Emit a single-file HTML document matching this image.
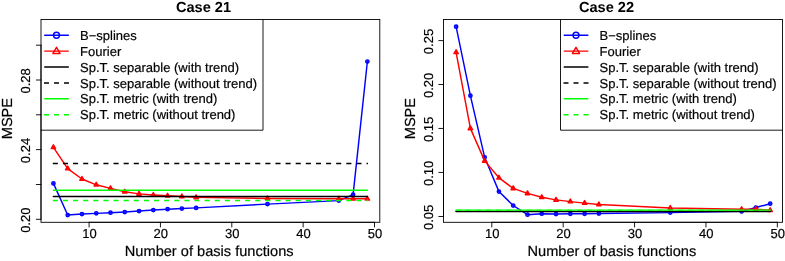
<!DOCTYPE html>
<html lang="en">
<head>
<meta charset="utf-8">
<title>MSPE vs number of basis functions</title>
<style>
html,body{margin:0;padding:0;background:#fff;}
body{width:785px;height:261px;overflow:hidden;}
svg{display:block;text-rendering:geometricPrecision;stroke:none;font-family:"Liberation Sans",sans-serif;fill:#000;}
.ln{fill:none;stroke-width:1.45;stroke-linecap:round;stroke-linejoin:round;}
.ll{fill:none;stroke-width:1.45;stroke-linecap:round;stroke-linejoin:round;}
.b{stroke:#0000ff;}
.r{stroke:#ff0000;}
.k{stroke:#000;}
.g{stroke:#00ff00;}
.d{stroke-dasharray:5.06 5.06;stroke-linecap:butt;}
.d2{stroke-dasharray:5 5;stroke-linecap:butt;}
.pb{fill:#0000ff;fill-opacity:0.55;stroke:#0000ff;stroke-width:1.45;}
.pr{fill:#ff0000;fill-opacity:0.55;stroke:#ff0000;stroke-width:1.45;stroke-linejoin:round;}
.ax{fill:none;stroke:#000;stroke-width:0.9;stroke-linecap:round;}
.lgf{fill:#fff;stroke:none;}
.t{stroke-width:0.8;}
.tk{font-size:13.0px;stroke:#000;stroke-width:0.18px;}
.lb{font-size:14.6px;stroke:#000;stroke-width:0.18px;}
.ti{font-size:14.6px;font-weight:bold;}
</style>
</head>
<body>
<svg width="785" height="261" viewBox="0 0 785 261">
<rect x="0" y="0" width="785" height="261" fill="#fff" stroke="none"/>
<g>
<polyline class="ln b" points="53.42,183.4 67.69,215 81.96,214 96.23,213.35 110.5,212.7 124.77,212 139.04,211.05 153.31,210 167.58,209.2 181.85,208.5 196.12,207.9 267.48,204.1 338.82,200.6 353.1,194.7 367.37,61.5"/>
<circle class="pb" cx="53.42" cy="183.4" r="1.65"/>
<circle class="pb" cx="67.69" cy="215" r="1.65"/>
<circle class="pb" cx="81.96" cy="214" r="1.65"/>
<circle class="pb" cx="96.23" cy="213.35" r="1.65"/>
<circle class="pb" cx="110.5" cy="212.7" r="1.65"/>
<circle class="pb" cx="124.77" cy="212" r="1.65"/>
<circle class="pb" cx="139.04" cy="211.05" r="1.65"/>
<circle class="pb" cx="153.31" cy="210" r="1.65"/>
<circle class="pb" cx="167.58" cy="209.2" r="1.65"/>
<circle class="pb" cx="181.85" cy="208.5" r="1.65"/>
<circle class="pb" cx="196.12" cy="207.9" r="1.65"/>
<circle class="pb" cx="267.48" cy="204.1" r="1.65"/>
<circle class="pb" cx="338.82" cy="200.6" r="1.65"/>
<circle class="pb" cx="353.1" cy="194.7" r="1.65"/>
<circle class="pb" cx="367.37" cy="61.5" r="1.65"/>
<polyline class="ln r" points="53.42,147.3 67.69,168.6 81.96,179 96.23,184.8 110.5,188.4 124.77,191.8 139.04,193.9 153.31,195 167.58,195.8 181.85,196.5 196.12,197.4 267.48,198.5 338.82,198.8 353.1,198.8 367.37,198.8"/>
<polygon class="pr" points="53.42,144.8 55.59,148.55 51.26,148.55"/>
<polygon class="pr" points="67.69,166.1 69.86,169.85 65.53,169.85"/>
<polygon class="pr" points="81.96,176.5 84.13,180.25 79.8,180.25"/>
<polygon class="pr" points="96.23,182.3 98.4,186.05 94.07,186.05"/>
<polygon class="pr" points="110.5,185.9 112.67,189.65 108.34,189.65"/>
<polygon class="pr" points="124.77,189.3 126.94,193.05 122.61,193.05"/>
<polygon class="pr" points="139.04,191.4 141.21,195.15 136.88,195.15"/>
<polygon class="pr" points="153.31,192.5 155.48,196.25 151.15,196.25"/>
<polygon class="pr" points="167.58,193.3 169.75,197.05 165.42,197.05"/>
<polygon class="pr" points="181.85,194 184.02,197.75 179.69,197.75"/>
<polygon class="pr" points="196.12,194.9 198.29,198.65 193.96,198.65"/>
<polygon class="pr" points="267.48,196 269.64,199.75 265.31,199.75"/>
<polygon class="pr" points="338.82,196.3 340.99,200.05 336.66,200.05"/>
<polygon class="pr" points="353.1,196.3 355.26,200.05 350.93,200.05"/>
<polygon class="pr" points="367.37,196.3 369.53,200.05 365.2,200.05"/>
<line class="ln k" x1="53.42" x2="367.37" y1="196.45" y2="196.45"/>
<line class="ln k d" x1="52.82" x2="367.97" y1="163.5" y2="163.5"/>
<line class="ln g" x1="53.42" x2="367.37" y1="190.2" y2="190.2"/>
<line class="ln g d" x1="52.82" x2="367.97" y1="200.45" y2="200.45"/>
<rect class="lgf" x="41.0" y="19.5" width="222" height="110.7"/>
<path class="ax" d="M89.1,222.3H374.5M89.1,222.3v4.7M160.45,222.3v4.7M231.8,222.3v4.7M303.15,222.3v4.7M374.5,222.3v4.7"/>
<text class="tk" x="89.5" y="238.4" text-anchor="middle">10</text>
<text class="tk" x="160.85" y="238.4" text-anchor="middle">20</text>
<text class="tk" x="232.2" y="238.4" text-anchor="middle">30</text>
<text class="tk" x="303.55" y="238.4" text-anchor="middle">40</text>
<text class="tk" x="374.9" y="238.4" text-anchor="middle">50</text>
<path class="ax" d="M41.0,219.3V45.2M41.0,219.3h-4.7M41.0,184.5h-4.7M41.0,149.6h-4.7M41.0,114.8h-4.7M41.0,80.0h-4.7M41.0,45.2h-4.7"/>
<text class="tk" transform="translate(30.4,220.2) rotate(-90)" text-anchor="middle">0.20</text>
<text class="tk" transform="translate(30.4,150.5) rotate(-90)" text-anchor="middle">0.24</text>
<text class="tk" transform="translate(30.4,80.9) rotate(-90)" text-anchor="middle">0.28</text>
<rect class="ax" x="41.0" y="19.5" width="338.8" height="202.8"/>
<text class="ti" x="203.5" y="12.3" text-anchor="middle">Case 21</text>
<text class="lb" x="209.2" y="256" text-anchor="middle">Number of basis functions</text>
<text class="lb" transform="translate(12.3,118.6) rotate(-90)" text-anchor="middle">MSPE</text>
<path class="ax" d="M263,19.5V130.2H41.0"/>
<line class="ll b" x1="44.75" x2="68.35" y1="35.2" y2="35.2"/>
<circle class="ll b" cx="56.5" cy="35.2" r="2.95"/>
<text class="tk" x="80.1" y="40">B−splines</text>
<line class="ll r" x1="44.75" x2="68.35" y1="51.1" y2="51.1"/>
<polygon class="ll r" points="56.5,47.3 60.05,53.45 52.95,53.45"/>
<text class="tk" x="80.1" y="56">Fourier</text>
<line class="ll k" x1="44.75" x2="68.35" y1="67" y2="67"/>
<text class="tk" x="80.1" y="72">Sp.T. separable (with trend)</text>
<line class="ll k d2" x1="44" x2="69.1" y1="82.9" y2="82.9"/>
<text class="tk" x="80.1" y="88">Sp.T. separable (without trend)</text>
<line class="ll g" x1="44.75" x2="68.35" y1="98.8" y2="98.8"/>
<text class="tk" x="80.1" y="103">Sp.T. metric (with trend)</text>
<line class="ll g d2" x1="44" x2="69.1" y1="114.7" y2="114.7"/>
<text class="tk" x="80.1" y="119">Sp.T. metric (without trend)</text>
</g>
<g>
<polyline class="ln b" points="456.11,26.7 470.39,95.7 484.66,157.3 498.94,191.6 513.21,205.5 527.49,214.7 541.77,213.7 556.04,214 570.32,213.8 584.59,213.8 598.87,213.5 670.25,212.6 741.63,211.4 755.91,207.5 770.18,203.7"/>
<circle class="pb" cx="456.11" cy="26.7" r="1.65"/>
<circle class="pb" cx="470.39" cy="95.7" r="1.65"/>
<circle class="pb" cx="484.66" cy="157.3" r="1.65"/>
<circle class="pb" cx="498.94" cy="191.6" r="1.65"/>
<circle class="pb" cx="513.21" cy="205.5" r="1.65"/>
<circle class="pb" cx="527.49" cy="214.7" r="1.65"/>
<circle class="pb" cx="541.77" cy="213.7" r="1.65"/>
<circle class="pb" cx="556.04" cy="214" r="1.65"/>
<circle class="pb" cx="570.32" cy="213.8" r="1.65"/>
<circle class="pb" cx="584.59" cy="213.8" r="1.65"/>
<circle class="pb" cx="598.87" cy="213.5" r="1.65"/>
<circle class="pb" cx="670.25" cy="212.6" r="1.65"/>
<circle class="pb" cx="741.63" cy="211.4" r="1.65"/>
<circle class="pb" cx="755.91" cy="207.5" r="1.65"/>
<circle class="pb" cx="770.18" cy="203.7" r="1.65"/>
<polyline class="ln r" points="456.11,52.3 470.39,128.4 484.66,160.9 498.94,177.8 513.21,188.4 527.49,193.4 541.77,197.3 556.04,199.9 570.32,201.6 584.59,203.1 598.87,204.5 670.25,208 741.63,209.3 755.91,209.1 770.18,210.3"/>
<polygon class="pr" points="456.11,49.8 458.28,53.55 453.94,53.55"/>
<polygon class="pr" points="470.39,125.9 472.55,129.65 468.22,129.65"/>
<polygon class="pr" points="484.66,158.4 486.83,162.15 482.5,162.15"/>
<polygon class="pr" points="498.94,175.3 501.1,179.05 496.77,179.05"/>
<polygon class="pr" points="513.21,185.9 515.38,189.65 511.05,189.65"/>
<polygon class="pr" points="527.49,190.9 529.65,194.65 525.33,194.65"/>
<polygon class="pr" points="541.77,194.8 543.93,198.55 539.6,198.55"/>
<polygon class="pr" points="556.04,197.4 558.21,201.15 553.88,201.15"/>
<polygon class="pr" points="570.32,199.1 572.48,202.85 568.15,202.85"/>
<polygon class="pr" points="584.59,200.6 586.76,204.35 582.43,204.35"/>
<polygon class="pr" points="598.87,202 601.03,205.75 596.71,205.75"/>
<polygon class="pr" points="670.25,205.5 672.41,209.25 668.09,209.25"/>
<polygon class="pr" points="741.63,206.8 743.79,210.55 739.47,210.55"/>
<polygon class="pr" points="755.91,206.6 758.07,210.35 753.74,210.35"/>
<polygon class="pr" points="770.18,207.8 772.35,211.55 768.02,211.55"/>
<line class="ln k" x1="456.11" x2="770.18" y1="211.4" y2="211.4"/>
<line class="ln k d t" x1="455.51" x2="770.78" y1="211.4" y2="211.4"/>
<line class="ln g" x1="456.11" x2="770.18" y1="210.1" y2="210.1"/>
<line class="ln g d t" x1="455.51" x2="770.78" y1="210.1" y2="210.1"/>
<rect class="lgf" x="560.5" y="19.5" width="222" height="110.7"/>
<path class="ax" d="M491.8,222.3H777.32M491.8,222.3v4.7M563.18,222.3v4.7M634.56,222.3v4.7M705.94,222.3v4.7M777.32,222.3v4.7"/>
<text class="tk" x="492.2" y="238.4" text-anchor="middle">10</text>
<text class="tk" x="563.58" y="238.4" text-anchor="middle">20</text>
<text class="tk" x="634.96" y="238.4" text-anchor="middle">30</text>
<text class="tk" x="706.34" y="238.4" text-anchor="middle">40</text>
<text class="tk" x="777.72" y="238.4" text-anchor="middle">50</text>
<path class="ax" d="M443.5,216.5V40.6M443.5,216.5h-4.7M443.5,172.45h-4.7M443.5,128.45h-4.7M443.5,84.5h-4.7M443.5,40.6h-4.7"/>
<text class="tk" transform="translate(432.9,217.4) rotate(-90)" text-anchor="middle">0.05</text>
<text class="tk" transform="translate(432.9,173.35) rotate(-90)" text-anchor="middle">0.10</text>
<text class="tk" transform="translate(432.9,129.35) rotate(-90)" text-anchor="middle">0.15</text>
<text class="tk" transform="translate(432.9,85.4) rotate(-90)" text-anchor="middle">0.20</text>
<text class="tk" transform="translate(432.9,41.5) rotate(-90)" text-anchor="middle">0.25</text>
<rect class="ax" x="443.5" y="19.5" width="339" height="202.8"/>
<text class="ti" x="606.5" y="12.3" text-anchor="middle">Case 22</text>
<text class="lb" x="611.9" y="256" text-anchor="middle">Number of basis functions</text>
<text class="lb" transform="translate(415,118.6) rotate(-90)" text-anchor="middle">MSPE</text>
<path class="ax" d="M560.5,19.5V130.2H782.5"/>
<line class="ll b" x1="564.25" x2="587.85" y1="35.2" y2="35.2"/>
<circle class="ll b" cx="576" cy="35.2" r="2.95"/>
<text class="tk" x="599.6" y="40">B−splines</text>
<line class="ll r" x1="564.25" x2="587.85" y1="51.1" y2="51.1"/>
<polygon class="ll r" points="576,47.3 579.55,53.45 572.45,53.45"/>
<text class="tk" x="599.6" y="56">Fourier</text>
<line class="ll k" x1="564.25" x2="587.85" y1="67" y2="67"/>
<text class="tk" x="599.6" y="72">Sp.T. separable (with trend)</text>
<line class="ll k d2" x1="563.5" x2="588.6" y1="82.9" y2="82.9"/>
<text class="tk" x="599.6" y="88">Sp.T. separable (without trend)</text>
<line class="ll g" x1="564.25" x2="587.85" y1="98.8" y2="98.8"/>
<text class="tk" x="599.6" y="103">Sp.T. metric (with trend)</text>
<line class="ll g d2" x1="563.5" x2="588.6" y1="114.7" y2="114.7"/>
<text class="tk" x="599.6" y="119">Sp.T. metric (without trend)</text>
</g>
</svg>
</body>
</html>
